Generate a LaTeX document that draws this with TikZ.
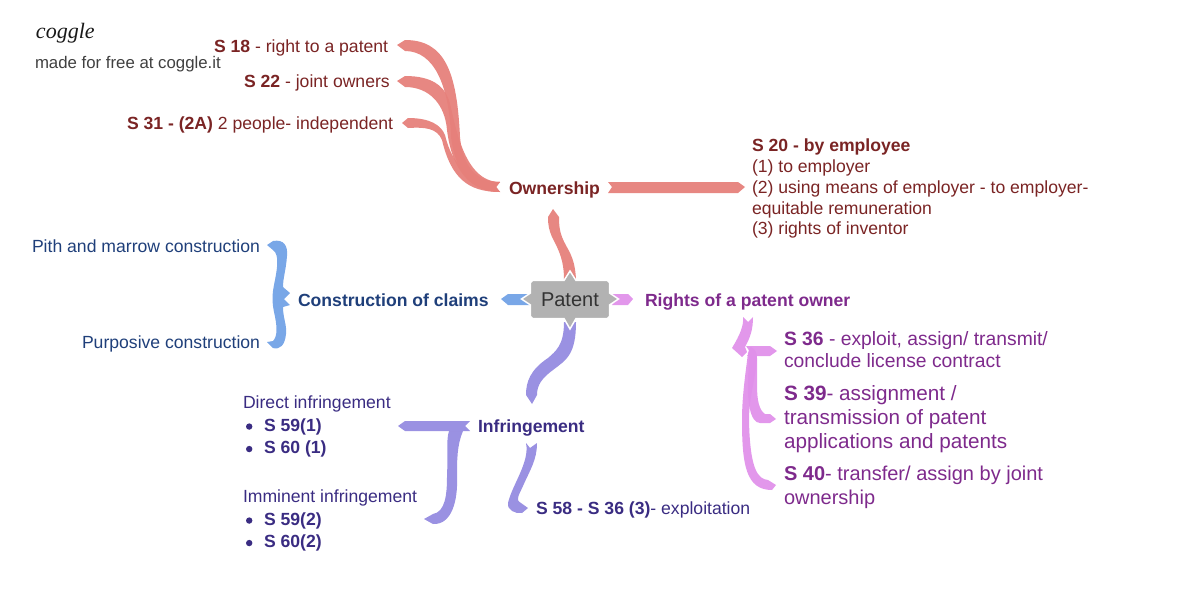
\documentclass[tikz,border=0pt]{standalone}
\usepackage{fontspec}
\setmainfont{Liberation Sans}
\newfontfamily\logofont{Liberation Serif}
\definecolor{redrib}{HTML}{E6807A}
\definecolor{bluerib}{HTML}{72A2E6}
\definecolor{purprib}{HTML}{958BE0}
\definecolor{pinkrib}{HTML}{E090EA}
\definecolor{redtxt}{HTML}{7A2424}
\definecolor{bluetxt}{HTML}{1F3F7A}
\definecolor{purptxt}{HTML}{3A2C82}
\definecolor{pinktxt}{HTML}{7E2A8C}
\newcommand{\fsz}[2]{\fontsize{\dimexpr#1pt*3/4\relax}{\dimexpr#2pt*3/4\relax}\selectfont}
\newlength{\mylen}\setlength{\mylen}{0.75pt}
\newcommand{\blt}{\makebox[21\mylen][l]{\hspace*{3\mylen}\raisebox{1.5\mylen}{\tikz\fill (0,0) circle (3.2\mylen);}}}
\tikzset{
 x=0.75pt,y=-0.75pt,
 lab/.style={inner sep=0pt,outer sep=0pt,anchor=base west,align=left},
 blk/.style={inner sep=0pt,outer sep=0pt,anchor=north west,align=left},
 rred/.style={fill=redrib,fill opacity=.94},
 rblue/.style={fill=bluerib,fill opacity=.95},
 rpurp/.style={fill=purprib,fill opacity=.95},
 rpink/.style={fill=pinkrib,fill opacity=.94},
 hub/.style={fill=black!30,draw=white,line width=1.1pt,line join=miter},
}
\begin{document}
\begin{tikzpicture}
\useasboundingbox (0,0) rectangle (1200,596);
% anchors of the ribbons
\coordinate (own) at (496,187);
\coordinate (ownr) at (612,187);
\coordinate (tA) at (397,45);
\coordinate (tB) at (397,81);
\coordinate (tC) at (402,123);
\coordinate (tD) at (745,187);
\coordinate (tOwn) at (553,209);
\coordinate (tClaims) at (501,299);
\coordinate (tRights) at (633,299);
\coordinate (tInf) at (532,404);
\coordinate (rn) at (748,322);
\coordinate (rr) at (747,352);
\coordinate (tS36) at (777,351);
\coordinate (tS39) at (776,419);
\coordinate (tS40) at (776,485);
\coordinate (inf) at (465,426);
\coordinate (tDir) at (398,426);
\coordinate (tImm) at (424,519);
\coordinate (infb) at (530,448);
\coordinate (tS58) at (528,508);
\coordinate (cn) at (284,299);
\coordinate (tPith) at (267,245);
\coordinate (tPurp) at (267,342);
% ownership ribbons
\fill[rred] (tA) -- (405,40) .. controls (445,40) and (457,72) .. (460,137) .. controls (462,160) and (472,182) .. (500,182) -- (own) -- (500,192) .. controls (470,192) and (455,170) .. (451,137) .. controls (449,85) and (434,51) .. (405,51) -- cycle;
\fill[rred] (tB) -- (405,76) .. controls (432,76) and (444,86) .. (449,100) .. controls (455,120) and (462,182) .. (500,182) -- (own) -- (500,192) .. controls (470,192) and (452,170) .. (447,130) .. controls (445,105) and (430,87) .. (405,87) -- cycle;
\fill[rred] (tC) -- (408,118) .. controls (430,118) and (441,125) .. (445,135) .. controls (452,165) and (470,182) .. (500,182) -- (own) -- (500,192) .. controls (468,192) and (451,178) .. (442,140) .. controls (437,128) and (425,127) .. (408,128) -- cycle;
\fill[rred] (tD) -- (738,182) -- (608,182) -- (ownr) -- (608,193) -- (738,193) -- cycle;
\fill[rred] (tOwn) -- (559,217) .. controls (559,226) and (560,232) .. (562,237) .. controls (567,250) and (575,255) .. (576,280) -- (564,280) .. controls (564,262) and (560,252) .. (552,237) .. controls (549,230) and (548,225) .. (548,217) -- cycle;
% hub-side ribbons
\fill[rblue] (tClaims) -- (508,294) -- (530,294) -- (530,305) -- (508,305) -- cycle;
\fill[rpink] (tRights) -- (628,294) -- (612,294) -- (617,299) -- (612,305) -- (628,305) -- cycle;
\fill[rpurp] (tInf) -- (537,395) .. controls (537,385) and (542,378) .. (553,370) .. controls (566,360) and (576,355) .. (576,322) -- (564,322) .. controls (564,345) and (556,351) .. (548,358) .. controls (530,370) and (526,382) .. (526,395) -- cycle;
% rights ribbons
\fill[rpink] (rn) -- (743,317) .. controls (744,325) and (740,335) .. (732,348) -- (742,357) -- (rr) -- (745,347) .. controls (750,338) and (753,330) .. (753,317) -- cycle;
\fill[rpink] (tS36) -- (770,346) -- (746,346) -- (750,352) -- (747,356) -- (770,356) -- cycle;
\fill[rpink] (tS39) -- (770,414) -- (765,414) .. controls (759,410) and (757,400) .. (757,385) -- (757,358) .. controls (756,350) and (752,347) .. (750,347) -- (749,353) -- (748,380) .. controls (747,400) and (750,423) .. (760,423) -- (770,423) -- cycle;
\fill[rpink] (tS40) -- (768,480) .. controls (758,479) and (750,470) .. (749,420) .. controls (749,395) and (757,375) .. (757,355) .. controls (756,350) and (752,347) .. (750,347) -- (748,353) .. controls (746,370) and (742,395) .. (742,420) .. controls (742,465) and (746,490) .. (772,490) -- cycle;
% infringement ribbons
\fill[rpurp] (tDir) -- (405,421) -- (470,421) -- (inf) -- (470,431) -- (405,431) -- cycle;
\fill[rpurp] (tImm) -- (433,514) .. controls (445,512) and (447,495) .. (447,477) .. controls (448,455) and (446,440) .. (449,431) -- (463,431) .. controls (457,445) and (457,460) .. (457,477) .. controls (458,500) and (452,525) .. (433,524) -- cycle;
\fill[rpurp] (tS58) -- (521,503) .. controls (515,500) and (519,495) .. (523,486) .. controls (530,470) and (537,460) .. (537,443) -- (infb) -- (526,443) .. controls (530,462) and (512,485) .. (508,503) .. controls (507,510) and (515,514) .. (522,513) -- cycle;
% construction ribbon
\fill[rblue] (tPith) -- (273,241) .. controls (284,239) and (288,246) .. (287,256) .. controls (286,270) and (283,278) .. (283,287) -- (290,293) -- (cn) -- (290,305) -- (283,307) .. controls (283,318) and (287,325) .. (286,334) .. controls (285,345) and (280,350) .. (273,348) -- (tPurp) -- (273,341) .. controls (278,336) and (277,325) .. (274,312) .. controls (272,302) and (272,295) .. (274,285) .. controls (277,270) and (280,255) .. (273,250) -- cycle;
% hub
\path[hub,rounded corners=0pt] (532.5,280.5) -- (564,280.5) -- (570,271) -- (576,280.5) -- (607.5,280.5) -- (609.5,282.5) -- (609.5,293) -- (618.5,299) -- (609.5,305) -- (609.5,316.5) -- (607.5,318.5) -- (576,318.5) -- (570,329) -- (564,318.5) -- (532.5,318.5) -- (530.5,316.5) -- (530.5,305) -- (521.5,299) -- (530.5,293) -- (530.5,282.5) -- cycle;
\node[lab,text=black!80,font=\fsz{20}{24}] (patent) at (541,306.5) {Patent};
% logo
\node[lab,text=black!90,font=\fsz{22}{26}\logofont\itshape] (logo) at (36,38) {coggle};
\node[lab,text=black!75,font=\fsz{16.8}{20}] (made) at (35,68) {made for free at coggle.it};
% ownership
\node[lab,text=redtxt,font=\fsz{17.6}{21}\bfseries] (own1) at (509,194) {Ownership};
\node[lab,text=redtxt,font=\fsz{17.6}{21}] (s18) at (214,52) {\textbf{S 18} - right to a patent};
\node[lab,text=redtxt,font=\fsz{17.6}{21}] (s22) at (244,87.5) {\textbf{S 22} - joint owners};
\node[lab,text=redtxt,font=\fsz{17.6}{21}] (s31) at (127,129) {\textbf{S 31 - (2A)} 2 people- independent};
\node[blk,text=redtxt,font=\fsz{17.6}{20.8}] (s20) at (752,139) {\textbf{S 20 - by employee}\\(1) to employer\\(2) using means of employer - to employer-\\equitable remuneration\\(3) rights of inventor};
% construction
\node[lab,text=bluetxt,font=\fsz{17.6}{21}\bfseries] (cons) at (298,306) {Construction of claims};
\node[lab,text=bluetxt,font=\fsz{17.6}{21}] (pith) at (32,252) {Pith and marrow construction};
\node[lab,text=bluetxt,font=\fsz{17.6}{21}] (purp) at (82,348.5) {Purposive construction};
% rights
\node[lab,text=pinktxt,font=\fsz{17.6}{21}\bfseries] (rights) at (645,306) {Rights of a patent owner};
\node[blk,text=pinktxt,font=\fsz{19.3}{22}] (s36) at (784,332) {\textbf{S 36} - exploit, assign/ transmit/\\conclude license contract};
\node[blk,text=pinktxt,font=\fsz{20.7}{24}] (s39) at (784,385.5) {\textbf{S 39}- assignment /\\transmission of patent\\applications and patents};
\node[blk,text=pinktxt,font=\fsz{20}{24}] (s40) at (784,466) {\textbf{S 40}- transfer/ assign by joint\\ownership};
% infringement
\node[lab,text=purptxt,font=\fsz{17.6}{21}\bfseries] (infr) at (478,432) {Infringement};
\node[blk,text=purptxt,font=\fsz{17.6}{22.5}] (dir) at (243,396) {Direct infringement\\\blt\textbf{S 59(1)}\\\blt\textbf{S 60 (1)}};
\node[blk,text=purptxt,font=\fsz{17.6}{22.5}] (imm) at (243,490) {Imminent infringement\\\blt\textbf{S 59(2)}\\\blt\textbf{S 60(2)}};
\node[lab,text=purptxt,font=\fsz{17.6}{21}] (s58) at (536,514) {\textbf{S 58 - S 36 (3)}- exploitation};
\end{tikzpicture}
\end{document}
